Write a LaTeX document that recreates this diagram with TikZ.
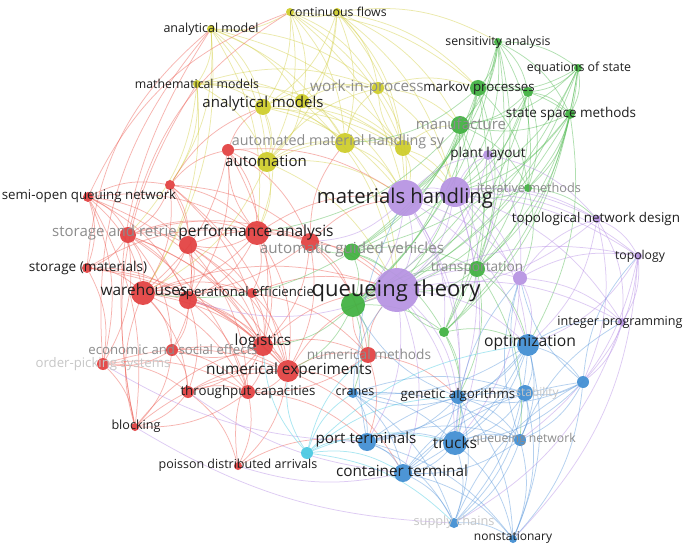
\documentclass[tikz,border=0pt]{standalone}
\usepackage{fontspec}
\setmainfont{Open Sans}
\usetikzlibrary{backgrounds}
\definecolor{cR}{RGB}{226,62,62}
\definecolor{cY}{RGB}{206,204,40}
\definecolor{cG}{RGB}{62,176,62}
\definecolor{cP}{RGB}{182,146,226}
\definecolor{cB}{RGB}{62,140,210}
\definecolor{cC}{RGB}{70,200,225}
\definecolor{eR}{RGB}{238,100,90}
\definecolor{eY}{RGB}{214,210,80}
\definecolor{eG}{RGB}{90,190,90}
\definecolor{eP}{RGB}{186,146,232}
\definecolor{eB}{RGB}{100,158,222}
\definecolor{eC}{RGB}{80,205,228}
\tikzset{
  vn/.style={circle, inner sep=0pt, minimum size=#1, fill opacity=0.92},
  rn/.style={vn=#1, fill=cR}, yn/.style={vn=#1, fill=cY}, gn/.style={vn=#1, fill=cG},
  pn/.style={vn=#1, fill=cP}, bn/.style={vn=#1, fill=cB}, cn/.style={vn=#1, fill=cC},
  lb/.style={font=\fontsize{#1}{#1}\selectfont, text=black!88, inner sep=0pt},
  lg/.style={font=\fontsize{#1}{#1}\selectfont, text=black!45, inner sep=0pt},
  ll/.style={font=\fontsize{#1}{#1}\selectfont, text=black!22, inner sep=0pt},
  ed/.style={draw=#1, draw opacity=0.48, line width=0.75pt, bend left=18},
  ey/.style={ed=eY}, er/.style={ed=eR}, eg/.style={ed=eG},
  ep/.style={ed=eP}, eb/.style={ed=eB}, ec/.style={ed=eC},
}
\begin{document}
\begin{tikzpicture}[x=1pt,y=-1pt]
\useasboundingbox (0,0) rectangle (685,545);
% ---------- nodes ----------
% yellow
\node[yn=8]  (y1) at (337,12) {};
\node[yn=8]  (y2) at (290,12) {};
\node[yn=8]  (y3) at (211,29) {};
\node[yn=8]  (y4) at (197,84) {};
\node[yn=16] (y5) at (263,107) {};
\node[yn=14] (y6) at (302,101) {};
\node[yn=20] (y7) at (267,162) {};
\node[yn=20] (y8) at (345,143) {};
\node[yn=16] (y9) at (403,148) {};
\node[yn=12] (y10) at (378,88) {};
% green
\node[gn=8]  (g1) at (498,42) {};
\node[gn=8]  (g2) at (578,68) {};
\node[gn=16] (g3) at (478,88) {};
\node[gn=10] (g4) at (528,92) {};
\node[gn=10] (g5) at (570,114) {};
\node[gn=18] (g6) at (460,125) {};
\node[gn=8]  (g7) at (528,188) {};
\node[gn=17] (g8) at (352,252) {};
\node[gn=24] (g9) at (353,305) {};
\node[gn=16] (g10) at (477,269) {};
\node[gn=10] (g11) at (444,332) {};
% purple
\node[pn=36] (p1) at (405,198) {};
\node[pn=30] (p2) at (455,192) {};
\node[pn=44] (p3) at (397,290) {};
\node[pn=10] (p4) at (488,155) {};
\node[pn=14] (p5) at (520,278) {};
\node[pn=8]  (p6) at (597,219) {};
\node[pn=8]  (p7) at (638,256) {};
\node[pn=8]  (p8) at (622,322) {};
% red
\node[rn=10] (r1) at (88,197) {};
\node[rn=10] (r2) at (170,185) {};
\node[rn=16] (r3) at (128,235) {};
\node[rn=24] (r4) at (257,233) {};
\node[rn=18] (r5) at (188,245) {};
\node[rn=18] (r6) at (310,242) {};
\node[rn=12] (r7) at (228,150) {};
\node[rn=10] (r8) at (87,268) {};
\node[rn=24] (r9) at (143,293) {};
\node[rn=18] (r10) at (188,300) {};
\node[rn=10] (r11) at (252,293) {};
\node[rn=20] (r12) at (263,346) {};
\node[rn=12] (r13) at (172,350) {};
\node[rn=12] (r14) at (103,364) {};
\node[rn=22] (r15) at (288,371) {};
\node[rn=16] (r16) at (368,355) {};
\node[rn=12] (r17) at (188,392) {};
\node[rn=14] (r18) at (248,392) {};
\node[rn=8]  (r19) at (135,427) {};
\node[rn=8]  (r20) at (238,466) {};
% cyan
\node[cn=12] (c1) at (307,453) {};
% blue
\node[bn=22] (b1) at (528,345) {};
\node[bn=12] (b2) at (583,382) {};
\node[bn=14] (b3) at (458,397) {};
\node[bn=16] (b4) at (525,393) {};
\node[bn=10] (b5) at (353,393) {};
\node[bn=18] (b6) at (367,442) {};
\node[bn=24] (b7) at (455,443) {};
\node[bn=12] (b8) at (520,440) {};
\node[bn=18] (b9) at (403,473) {};
\node[bn=10] (b10) at (454,523) {};
\node[bn=8]  (b11) at (513,539) {};
% ---------- edges ----------
\begin{scope}[on background layer]
\fill[white] (0,0) rectangle (685,545);
\foreach \a/\b in {y1/y2,y1/y5,y1/y6,y1/y7,y1/y8,y1/y10,y1/g3,y1/g6,y1/y9,y2/y5,y2/y7,y2/y6,y2/y3,y2/y10,
  y3/y4,y3/y5,y3/y7,y3/y6,y3/r9,y3/r4,y4/y5,y4/y7,y4/y6,y4/r3,y4/r9,y5/y6,y5/y7,y5/y8,y5/y10,y5/p1,
  y6/y7,y6/y8,y6/y10,y7/y8,y7/y9,y7/p1,y7/p3,y8/y9,y8/y10,y8/p1,y9/y10,y9/p1,y10/g3,y10/p2,y1/p2,
  y2/y8,y2/y9,y6/y9,y5/y9,y3/y8,y4/y8,y1/p1,y10/p1,
  y3/y9,y3/y10,y4/y9,y4/y10,y2/g3,y1/g1,y10/g6,y6/p1,y7/y10,y5/p2,y9/g6,y4/r2,y3/r2,y7/r4,y7/r9,y5/r4,
  y2/p1,y6/p3,y8/p3,y9/p2}
  \draw[ey] (\a) to (\b);
\foreach \a/\b in {r14/y3,r19/y4,r8/y3,r1/y2,r19/y3,r3/y2}
  \draw[ed=eR, bend left=22] (\a) to (\b);
\foreach \a/\b in {r1/r2,r1/r3,r1/r8,r1/r9,r1/r4,r1/r14,r1/r19,r2/r3,r2/r4,r2/r5,r2/r7,r2/r9,r3/r4,r3/r5,
  r3/r8,r3/r9,r3/r10,r3/r12,r4/r5,r4/r6,r4/r7,r4/r9,r4/r10,r4/r11,r4/r12,r4/r15,r4/p3,r4/p1,r5/r9,r5/r10,
  r5/r12,r6/p1,r6/p3,r6/r9,r6/r12,r6/r15,r7/y7,r7/r4,r7/r9,r8/r9,r8/r10,r8/r14,r9/r10,r9/r11,r9/r12,
  r9/r13,r9/r15,r9/r17,r9/r18,r9/p3,r10/r12,r10/r15,r10/r18,r11/r12,r11/p3,r12/r15,r12/r16,r12/r18,
  r12/p3,r13/r14,r13/r17,r13/r18,r14/r17,r14/r19,r14/r18,r15/r16,r15/r18,r15/r20,r15/p3,r15/b5,r16/p3,
  r16/b3,r17/r19,r17/r20,r18/r19,r18/r20,r19/r15,r20/b6,r17/r15,r14/r15,r19/r12,r1/r5,r8/r4,
  r2/r6,r3/r6,r5/r6,r7/r6,r10/r11,r13/r15,r5/r15,r3/r15,r19/r9,r20/r12,r8/r12,r2/y5,r7/y5,r6/y8,
  r11/r16,r16/b6,r18/b6,r15/b9,
  r1/r10,r1/r12,r2/r10,r2/r12,r3/r13,r3/r14,r5/r11,r5/r13,r7/r12,r7/r10,r13/r19,r17/r18,r10/r13,
  r10/r17,r12/r13,r12/r17,r16/r18,r16/g9,r6/g9,r11/r15,r6/r16,r8/r15,r3/r18,r5/r18,r2/r15,r7/p1}
  \draw[er] (\a) to (\b);
\foreach \a/\b in {r19/b10,r20/b9,r14/b6,r17/b9}
  \draw[ed=eP, bend right=14] (\a) to (\b);
\foreach \a/\b in {g1/g3,g1/g4,g1/g5,g1/g2,g1/g6,g1/g9,g1/g10,g2/g3,g2/g4,g2/g5,g2/g6,g2/g7,g2/g10,
  g3/g4,g3/g5,g3/g6,g3/g8,g3/g9,g3/p1,g4/g5,g4/g6,g4/g7,g5/g6,g5/g7,g5/g9,g5/g10,g5/p2,g6/g8,g6/g9,
  g6/p1,g6/p3,g7/g9,g7/p2,g8/g9,g8/p3,g8/r6,g9/p3,g9/g10,g9/g11,g10/p3,g10/b1,g11/p3,g11/b7,g8/g11,
  g6/r4,g9/r15,g10/g11,g3/y8,g1/p1,g2/g9,g2/g11,g4/g10,g5/g11,g1/g8,g4/g9,g3/g10,g7/g10,g6/g10,
  g9/r12,g8/r9,g9/r16,g11/b3,g10/b3,g5/b1,
  g1/g7,g3/g7,g6/g7,g2/p2,g1/p2,g4/p2,g3/g11,g6/g11,g4/g8,g5/g8,g8/g10,g9/b5,g11/b1,g10/b8,g7/p5,
  g7/p6,g2/p3,g4/p3,g1/g11}
  \draw[eg] (\a) to (\b);
\foreach \a/\b in {p1/p2,p1/p3,p2/p3,p1/p4,p2/p4,p3/p5,p2/p5,p1/p5,p5/p6,p5/p7,p6/p7,p6/p8,p7/p8,
  p2/p6,p1/p6,p3/p7,p3/p8,p2/p7,p5/p8,p4/p6,p3/b7,p3/b1,p1/b1,p3/b6,p3/b9,p2/b3,p8/b2,p6/b1,
  p1/g9,p2/g9,p4/p3,p2/g10,p1/b7,p3/b3,p5/b1,p7/b1,p6/b2,p3/r10,p1/r6,p2/p8,
  p4/p5,p1/p7,p2/b1,p5/b7,p6/p3,p7/b2,p1/b3,p2/b7,p4/g10,p1/g11}
  \draw[ep] (\a) to (\b);
\foreach \a/\b in {b11/p7,b8/p7,b10/p8}
  \draw[ed=eP, bend right=20] (\a) to (\b);
\foreach \a/\b in {b1/b2,b1/b3,b1/b4,b1/b7,b1/b8,b1/b6,b1/b9,b2/b3,b2/b4,b2/b7,b2/b8,b2/b11,b3/b4,
  b3/b5,b3/b6,b3/b7,b3/b8,b3/b9,b4/b7,b4/b8,b4/b11,b5/b6,b5/b7,b5/b9,b6/b7,b6/b9,b6/b10,b7/b8,b7/b9,
  b7/b10,b7/b11,b8/b9,b8/b10,b8/b11,b9/b10,b9/b11,b10/b11,b6/b11,b1/b11,b1/b10,b5/p3,b6/p1,b2/p5,
  b4/p5,b8/p5,b1/p8,b3/g9,b5/b4,b9/b2,b10/b2,b7/p5,b4/b10,
  b5/b8,b6/b8,b9/b4,b5/b10,b6/b4,b3/b10,b3/b11,b1/b5,b2/p7,b8/p8}
  \draw[eb] (\a) to (\b);
\foreach \a/\b in {c1/b6,c1/b9,c1/b7,c1/b5,c1/r15,c1/b3,c1/b10,c1/r16,c1/b1,c1/r12}
  \draw[ec] (\a) to (\b);
\end{scope}
% ---------- labels ----------
\node[lb=12.3] (t1) at (338,12) {continuous flows};
\node[lb=12.5] (t2) at (211,29) {analytical model};
\node[lb=12.3] (t3) at (197,84) {mathematical models};
\node[lb=15]   (t4) at (263,104) {analytical models};
\node[lb=15]   (t5) at (266,161) {automation};
\node[lg=14.3] (t6) at (338,142) {automated material handling sy};
\node[lg=15.3] (t7) at (367,88) {work-in-process};
\node[lb=12.3] (t8) at (498,42) {sensitivity analysis};
\node[lb=12.4] (t9) at (579,68) {equations of state};
\node[lb=13.3] (t10) at (479,88) {markov processes};
\node[lb=13.5] (t11) at (571,114) {state space methods};
\node[lg=15]   (t12) at (461,124) {manufacture};
\node[lb=13.6] (t13) at (488,154) {plant layout};
\node[lb=20.3] (t14) at (405,198) {materials handling};
\node[lg=12.7] (t15) at (529,188) {iterative methods};
\node[lb=13.4] (t16) at (596,219) {topological network design};
\node[lb=12.2] (t17) at (640,256) {topology};
\node[lb=12.6] (t18) at (620,322) {integer programming};
\node[lg=13.7] (t19) at (477,268) {transportation};
\node[lb=22]   (t20) at (396,291) {queueing theory};
\node[lg=15.2] (t21) at (352,250) {automatic guided vehicles};
\node[lb=13.3] (t22) at (89,196) {semi-open queuing network};
\node[lg=15, anchor=west] (t23) at (52,233) {storage and retrie};
\node[lb=15.5] (t24) at (256,232) {performance analysis};
\node[lb=13.6] (t25) at (88,268) {storage (materials)};
\node[lb=15.4] (t26) at (144,290) {warehouses};
\node[lb=13.2] (t27) at (246,293) {operational efficiencie};
\node[lb=15.3] (t28) at (263,342) {logistics};
\node[lg=13.2] (t29) at (173,350) {economic and social effects};
\node[ll=13.2] (t30) at (103,364) {order-picking systems};
\node[lb=15.4] (t31) at (289,370) {numerical experiments};
\node[lg=13.7] (t32) at (369,354) {numerical methods};
\node[lb=13.3] (t33) at (248,392) {throughput capacities};
\node[lb=12.6] (t34) at (136,426) {blocking};
\node[lb=12.5] (t35) at (238,465) {poisson distributed arrivals};
\node[lb=15.7] (t36) at (530,343) {optimization};
\node[lb=12.6] (t37) at (355,392) {cranes};
\node[lb=13.3] (t38) at (458,395) {genetic algorithms};
\node[ll=12]   (t39) at (537,393) {stability};
\node[lb=15.2] (t40) at (366,440) {port terminals};
\node[lb=15.5] (t41) at (455,443) {trucks};
\node[lg=12.2] (t42) at (524,439) {queueing network};
\node[lb=15.3] (t43) at (402,471) {container terminal};
\node[ll=12.8] (t44) at (454,522) {supply chains};
\node[lb=12]   (t45) at (513,538) {nonstationary};
\end{tikzpicture}
\end{document}
